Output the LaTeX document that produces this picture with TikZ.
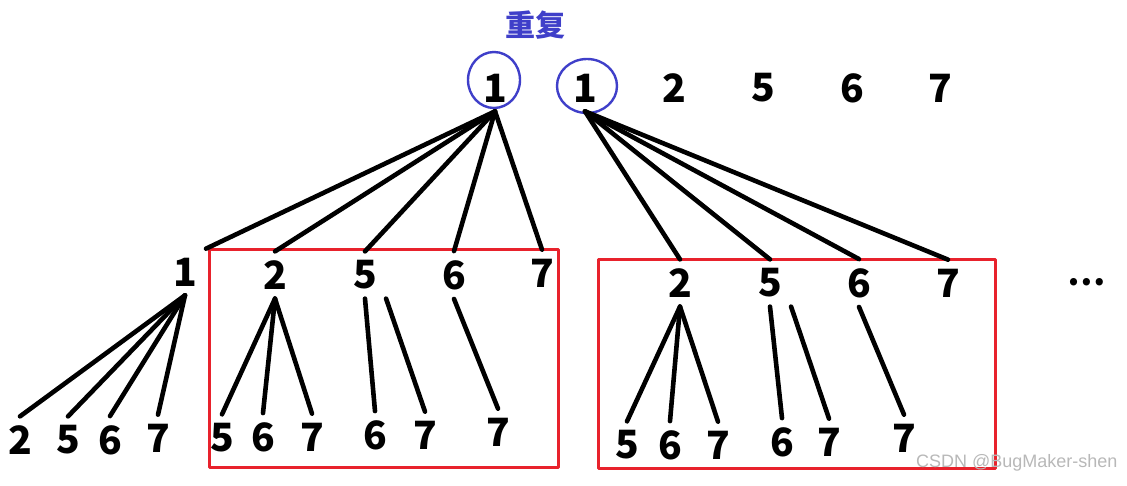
\documentclass[tikz,border=0pt]{standalone}
\usepackage{fontspec}
\newfontfamily\cjk{Noto Sans CJK SC}
\setsansfont{Liberation Sans}
\definecolor{mark}{HTML}{3F3FC9}
\definecolor{boxred}{HTML}{E8222C}
\definecolor{wmgray}{HTML}{B8B8B8}
\tikzset{
  every picture/.style={line join=round, line cap=round},
  num/.style={font=\cjk\bfseries\fontsize{39}{40}\selectfont, inner sep=9pt},
  edge/.style={line width=4.6pt, black},
  ring/.style={draw=mark, line width=2.4pt},
  group/.style={draw=boxred, line width=3pt},
}
\begin{document}
\begin{tikzpicture}[x=1pt, y=-1pt]
\useasboundingbox (0,0) rectangle (1127,486);
% Header and first row
\node[text=mark, font=\cjk\bfseries\fontsize{30}{32}\selectfont] (dup) at (535,25) {重复};
\node[num] (r1) at (495,88) {1};
\node[num] (s1) at (585,88) {1};
\node[num] (s2) at (674,88) {2};
\node[num] (s5) at (763,88) {5};
\node[num] (s6) at (852,88) {6};
\node[num] (s7) at (940,88) {7};
\draw[ring] (494,80) ellipse (26 and 28);
\draw[ring] (587,86) ellipse (30 and 27);

% Second row, left tree
\node[num] (a1) at (185,272) {1};
\node[num] (a2) at (275,275) {2};
\node[num] (a5) at (365,275) {5};
\node[num] (a6) at (454,275) {6};
\node[num] (a7) at (542,273) {7};

% Second row, right tree
\node[num] (b2) at (680,283) {2};
\node[num] (b5) at (770,283) {5};
\node[num] (b6) at (859,283) {6};
\node[num] (b7) at (948,283) {7};
\node[font=\cjk\bfseries\fontsize{34}{36}\selectfont] (more) at (1087,282) {…};

% Third row, left tree
\node[num] (a12) at (20,440) {2};
\node[num] (a15) at (68,440) {5};
\node[num] (a16) at (110,440) {6};
\node[num] (a17) at (158,438) {7};
\node[num] (a25) at (222,438) {5};
\node[num] (a26) at (263,437) {6};
\node[num] (a27) at (312,437) {7};
\node[num] (a56) at (375,435) {6};
\node[num] (a57) at (425,435) {7};
\node[num] (a67) at (498,432) {7};

% Third row, right tree
\node[num] (b25) at (627,445) {5};
\node[num] (b26) at (670,445) {6};
\node[num] (b27) at (718,445) {7};
\node[num] (b56) at (782,442) {6};
\node[num] (b57) at (829,442) {7};
\node[num] (b67) at (904,438) {7};

% Boxes
\draw[group] (209,250) rectangle (558,467);
\draw[group] (598,260) rectangle (995,468);

% Edges
\draw[edge] (r1.south) -- (a1.north east);
\draw[edge] (r1.south) -- (a2.north);
\draw[edge] (r1.south) -- (a5.north);
\draw[edge] (r1.south) -- (a6.north);
\draw[edge] (r1.south) -- (a7.north);
\draw[edge] (s1.south) -- (b2.north);
\draw[edge] (s1.south) -- (b5.north);
\draw[edge] (s1.south) -- (b6.north);
\draw[edge] (s1.south) -- (b7.north);

\draw[edge] (a1.south) -- (a12.north);
\draw[edge] (a1.south) -- (a15.north);
\draw[edge] (a1.south) -- (a16.north);
\draw[edge] (a1.south) -- (a17.north);
\draw[edge] (a2.south) -- (a25.north);
\draw[edge] (a2.south) -- (a26.north);
\draw[edge] (a2.south) -- (a27.north);
\draw[edge] (a5.south) -- (a56.north);
\draw[edge] (a5.south east) -- (a57.north);
\draw[edge] (a6.south) -- (a67.north);

\draw[edge] (b2.south) -- (b25.north);
\draw[edge] (b2.south) -- (b26.north);
\draw[edge] (b2.south) -- (b27.north);
\draw[edge] (b5.south) -- (b56.north);
\draw[edge] (b5.south east) -- (b57.north);
\draw[edge] (b6.south) -- (b67.north);

% Watermark
\node[text=wmgray, font=\sffamily\fontsize{18}{19}\selectfont, anchor=east] (wm) at (1121,463) {CSDN @BugMaker-shen};
\end{tikzpicture}
\end{document}
